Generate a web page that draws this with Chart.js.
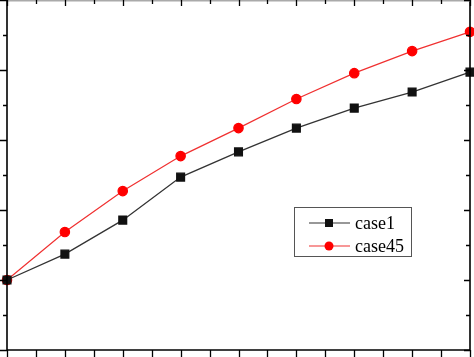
<!DOCTYPE html>
<html><head><meta charset="utf-8">
<script src="https://cdn.jsdelivr.net/npm/chart.js@4/dist/chart.umd.min.js"></script>
<style>html,body{margin:0;padding:0;background:#fff}#wrap{width:474px;height:357px}</style>
</head><body><div id="wrap"><canvas id="c" width="474" height="357"></canvas></div>
<script>
const xValues = [0, 1, 2, 3, 4, 5, 6, 7, 8];
const case1 = [2.0, 2.74, 3.71, 4.94, 5.66, 6.34, 6.91, 7.37, 7.94];
const case45 = [2.0, 3.37, 4.54, 5.54, 6.34, 7.17, 7.91, 8.54, 9.09];
const seriesNames = ['case1', 'case45'];
const xMin = 0, xMax = 8, yMin = 0, yMax = 10;

const axesPlugin = {
  id: 'frameAxes',
  afterDatasetsDraw(chart) {
    const {ctx, chartArea: a, scales: {x, y}} = chart;
    ctx.save();
    ctx.strokeStyle = '#000'; ctx.lineWidth = 1.6;
    ctx.beginPath();
    ctx.moveTo(a.left, a.top); ctx.lineTo(a.left, a.bottom);
    ctx.lineTo(a.right, a.bottom); ctx.lineTo(a.right, a.top);
    ctx.stroke();
    ctx.strokeStyle = '#aaa'; ctx.lineWidth = 3;
    ctx.beginPath(); ctx.moveTo(a.left, a.top); ctx.lineTo(a.right, a.top); ctx.stroke();
    ctx.strokeStyle = '#000'; ctx.lineWidth = 1.3;
    ctx.beginPath();
    for (let v = xMin; v <= xMax + 1e-9; v += 0.5) {
      const px = Math.round(x.getPixelForValue(v)) + 0.5;
      const major = Math.abs(v - Math.round(v)) < 1e-9;
      ctx.moveTo(px, a.bottom); ctx.lineTo(px, a.bottom + 7);
      ctx.moveTo(px, a.top); ctx.lineTo(px, a.top + (major ? 6 : 4));
    }
    for (let v = yMin; v <= yMax + 1e-9; v += 1) {
      const py = Math.round(y.getPixelForValue(v)) + 0.5;
      const major = v % 2 === 0;
      ctx.moveTo(a.left, py); ctx.lineTo(a.left - (major ? 7 : 4), py);
      ctx.moveTo(a.right, py); ctx.lineTo(a.right - (major ? 6 : 4), py);
    }
    ctx.stroke();
    const lx = 294, ly = 207, lw = 117, lh = 49;
    ctx.fillStyle = '#fff'; ctx.fillRect(lx, ly, lw, lh);
    ctx.strokeStyle = '#555'; ctx.lineWidth = 1;
    ctx.strokeRect(lx + 0.5, ly + 0.5, lw, lh);
    ctx.font = '18px "Liberation Serif", "Times New Roman", serif';
    ctx.textBaseline = 'middle';
    chart.data.datasets.forEach((ds, i) => {
      const cy = ly + 16 + i * 23;
      ctx.strokeStyle = ds.borderColor; ctx.lineWidth = 1.2;
      ctx.beginPath(); ctx.moveTo(309, cy); ctx.lineTo(350, cy); ctx.stroke();
      ctx.fillStyle = ds.pointBackgroundColor;
      if (ds.pointStyle === 'rect') { ctx.fillRect(325, cy - 4, 8, 8); }
      else { ctx.beginPath(); ctx.arc(329, cy, 4.5, 0, Math.PI * 2); ctx.fill(); }
      ctx.fillStyle = '#000';
      ctx.fillText(ds.label, 355, cy + 1);
    });
    ctx.restore();
  }
};

new Chart(document.getElementById('c'), {
  type: 'line',
  data: {
    datasets: [
      { label: seriesNames[0], data: xValues.map((v, i) => ({x: v, y: case1[i]})),
        borderColor: '#333', backgroundColor: '#111', pointBackgroundColor: '#111', pointBorderColor: '#111',
        borderWidth: 1.3, pointStyle: 'rect', pointRadius: 5.5, tension: 0, clip: false },
      { label: seriesNames[1], data: xValues.map((v, i) => ({x: v, y: case45[i]})),
        borderColor: '#f03030', backgroundColor: '#ff0000', pointBackgroundColor: '#ff0000', pointBorderColor: '#ff0000',
        borderWidth: 1.2, pointStyle: 'circle', pointRadius: 4.7, tension: 0, clip: false }
    ]
  },
  options: {
    responsive: false, animation: false, devicePixelRatio: 1,
    layout: { autoPadding: false, padding: { left: 7, right: 4, top: 0, bottom: 7 } },
    plugins: { legend: { display: false }, tooltip: { enabled: false } },
    scales: {
      x: { type: 'linear', min: xMin, max: xMax, display: false },
      y: { type: 'linear', min: yMin, max: yMax, display: false }
    }
  },
  plugins: [axesPlugin]
});
</script></body></html>
